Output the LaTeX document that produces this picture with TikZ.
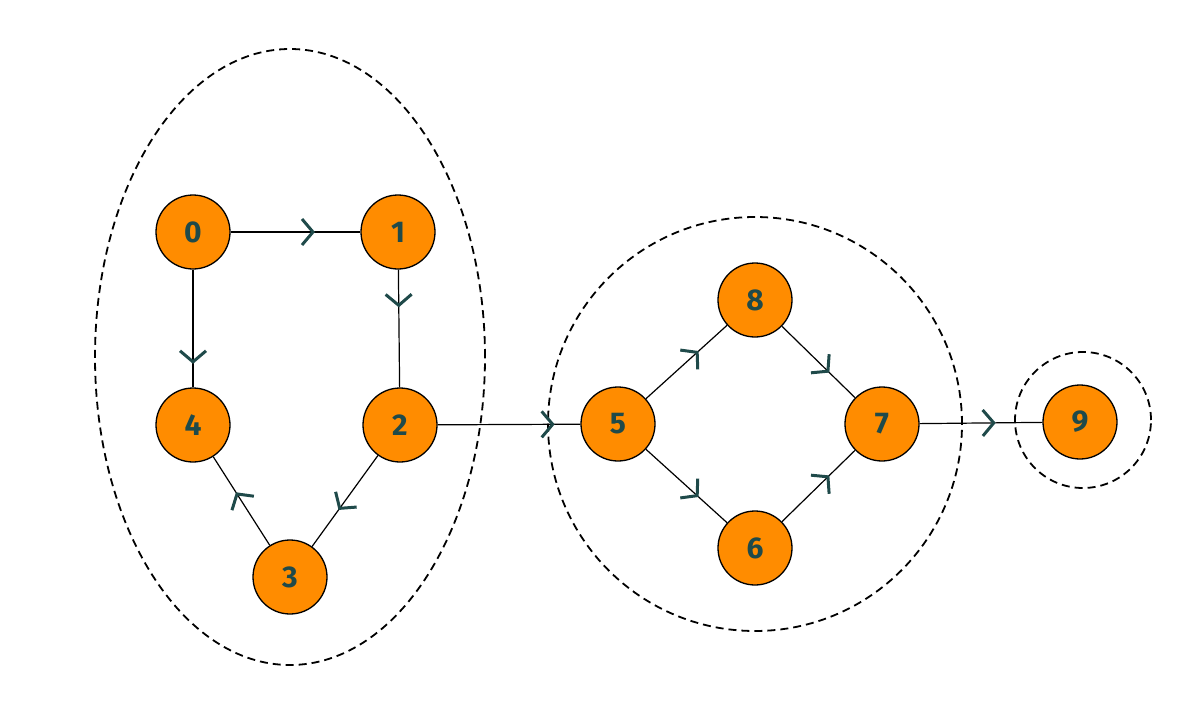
\documentclass[tikz,border=0pt]{standalone}
\usepackage{fontspec}
\setmainfont{Fira Sans}
\usetikzlibrary{arrows.meta,decorations.markings,shapes.geometric}
\definecolor{teal}{HTML}{1F4A4A}
\definecolor{org}{HTML}{FF8C00}
\tikzset{
 vx/.style={circle,draw=black,line width=1.3pt,fill=org,minimum size=74pt,inner sep=0pt,font=\fontsize{30}{30}\selectfont\bfseries,text=teal},
 ed/.style={line width=1.2pt,draw=black,postaction={decorate},decoration={markings,mark=at position #1 with {\arrow[teal]{Straight Barb[length=11pt,width=26pt,line width=3pt]}}}},
 grp/.style={draw=black,line width=1.8pt,dash pattern=on 8pt off 5pt}
}
\begin{document}
\begin{tikzpicture}[x=1pt,y=-1pt]
\useasboundingbox (0,0) rectangle (1200,715);
\node[grp,ellipse,minimum width=390pt,minimum height=616pt] (g1) at (290,357) {};
\node[grp,circle,minimum size=414pt] (g2) at (755,424) {};
\node[grp,circle,minimum size=136pt] (g3) at (1083,420) {};
\node[vx] (n0) at (193,232) {0};
\node[vx] (n1) at (398,232) {1};
\node[vx] (n4) at (193,425) {4};
\node[vx] (n2) at (400,425) {2};
\node[vx] (n3) at (290,577) {3};
\node[vx] (n5) at (618,424) {5};
\node[vx] (n8) at (755,300) {8};
\node[vx] (n7) at (882,424) {7};
\node[vx] (n6) at (755,548) {6};
\node[vx] (n9) at (1080,422) {9};
\draw[ed=0.65] (n0) -- (n1);
\draw[ed=0.32] (n1) -- (n2);
\draw[ed=0.8] (n0) -- (n4);
\draw[ed=0.6] (n2) -- (n3);
\draw[ed=0.6] (n3) -- (n4);
\draw[ed=0.82] (n2) -- (n5);
\draw[ed=0.65] (n5) -- (n8);
\draw[ed=0.65] (n8) -- (n7);
\draw[ed=0.65] (n5) -- (n6);
\draw[ed=0.65] (n6) -- (n7);
\draw[ed=0.62] (n7) -- (n9);
\end{tikzpicture}
\end{document}
